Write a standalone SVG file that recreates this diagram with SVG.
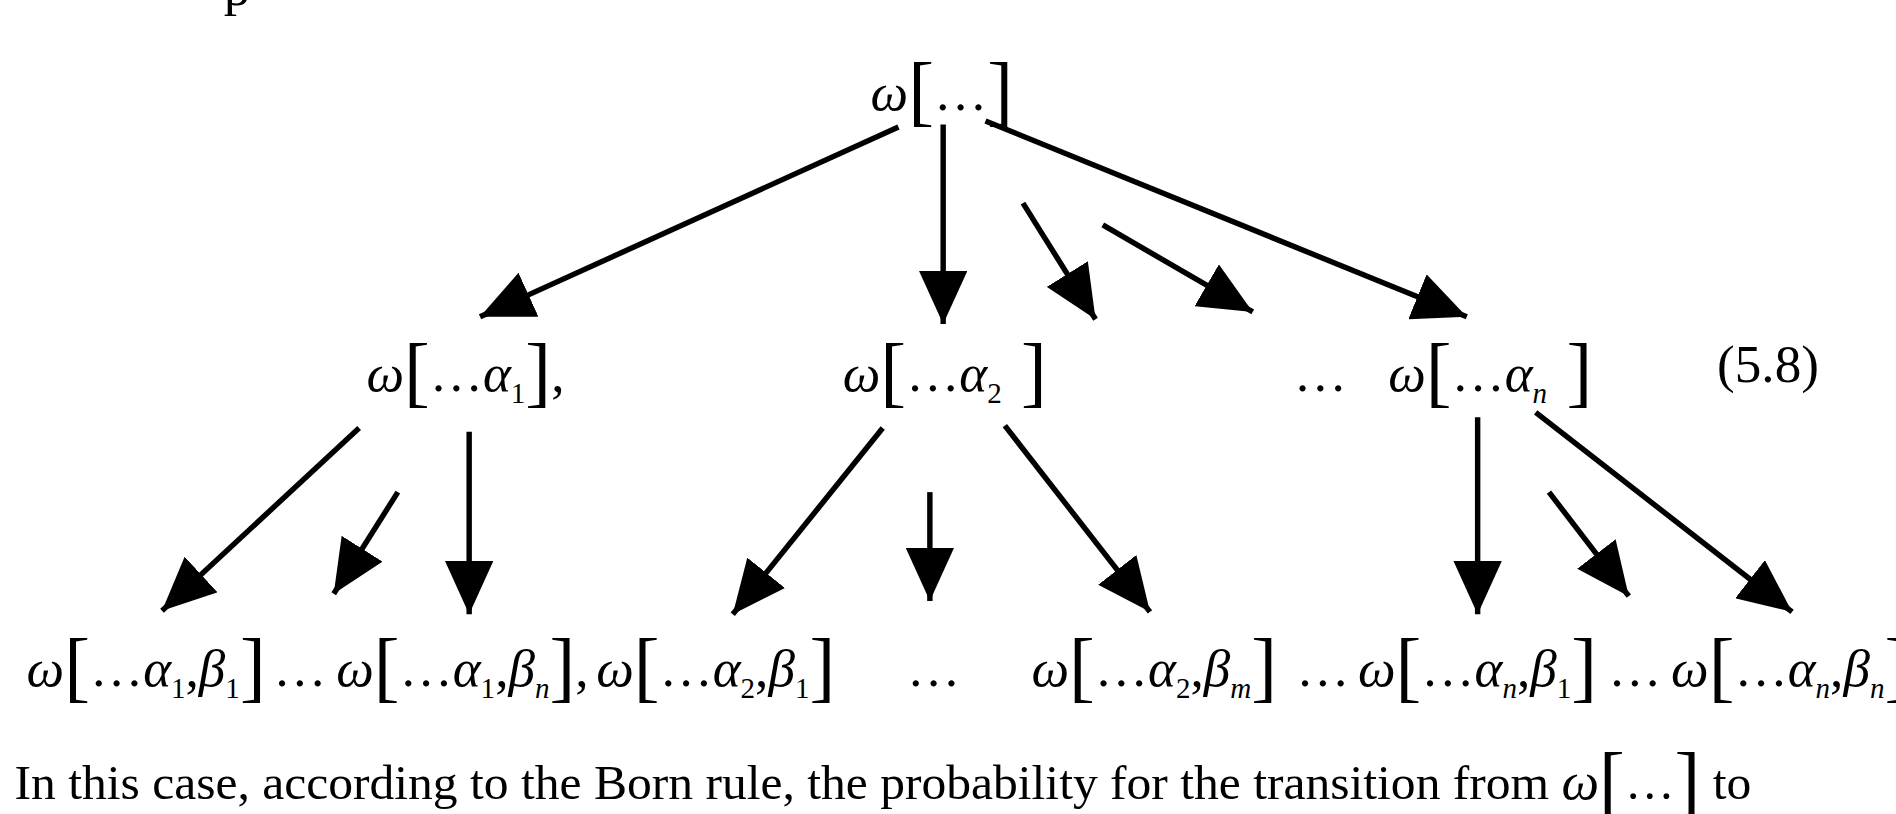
<svg xmlns="http://www.w3.org/2000/svg" width="1896" height="814" viewBox="0 0 1896 814">
<style>
text{font-family:"Liberation Serif",serif;fill:#000}
.m{font-size:44px;font-style:italic}
.b{font-size:64px;font-style:normal;font-weight:300}
.n{font-style:normal}
.s{font-size:24px}
.p{font-size:44px}
.q{font-size:41px}
line{stroke:#000;stroke-width:4.5}
</style>
<defs>
<marker id="ah" markerUnits="userSpaceOnUse" markerWidth="46" markerHeight="40" refX="44" refY="20" orient="auto">
<path d="M0,0 L44,20 L0,40 Z" fill="#000"/>
</marker>
</defs>
<rect width="1896" height="814" fill="#fff"/>
<g transform="scale(1.2092)">
<text class="p" x="185" y="4">p</text>
<g id="root"><text class="m" x="720" y="91">ω<tspan class="b n" y="97">[</tspan><tspan class="n" y="91">…</tspan><tspan class="b n" y="97">]</tspan></text></g>
<g id="a1"><text class="m" x="303" y="323">ω<tspan class="b n" y="329">[</tspan><tspan class="n" y="323">…</tspan>α<tspan class="s n" dy="10">1</tspan><tspan class="b n" y="329">]</tspan><tspan class="n" y="323">,</tspan></text></g>
<g id="a2"><text class="m" x="697" y="323">ω<tspan class="b n" y="329">[</tspan><tspan class="n" y="323">…</tspan>α<tspan class="s n" dy="10">2</tspan><tspan class="b n" y="329"> ]</tspan></text></g>
<g id="dots1"><text class="m n" x="1070" y="323">…</text></g>
<g id="an"><text class="m" x="1148" y="323">ω<tspan class="b n" y="329">[</tspan><tspan class="n" y="323">…</tspan>α<tspan class="s" dy="10">n</tspan><tspan class="b n" y="329"> ]</tspan></text></g>
<g id="eq"><text class="p" x="1420" y="316">(5.8)</text></g>
<g id="b1"><text class="m" x="22" y="567">ω<tspan class="b n" y="573">[</tspan><tspan class="n" y="567">…</tspan>α<tspan class="s n" dy="10">1</tspan><tspan class="n" y="567">,</tspan>β<tspan class="s n" dy="10">1</tspan><tspan class="b n" y="573">]</tspan></text></g>
<g id="d2"><text class="m n" x="226" y="567">…</text></g>
<g id="b2"><text class="m" x="278" y="567">ω<tspan class="b n" y="573">[</tspan><tspan class="n" y="567">…</tspan>α<tspan class="s n" dy="10">1</tspan><tspan class="n" y="567">,</tspan>β<tspan class="s" dy="10">n</tspan><tspan class="b n" y="573">]</tspan><tspan class="n" y="567">,</tspan></text></g>
<g id="b3"><text class="m" x="493" y="567">ω<tspan class="b n" y="573">[</tspan><tspan class="n" y="567">…</tspan>α<tspan class="s n" dy="10">2</tspan><tspan class="n" y="567">,</tspan>β<tspan class="s n" dy="10">1</tspan><tspan class="b n" y="573">]</tspan></text></g>
<g id="d3"><text class="m n" x="750" y="567">…</text></g>
<g id="b4"><text class="m" x="853" y="567">ω<tspan class="b n" y="573">[</tspan><tspan class="n" y="567">…</tspan>α<tspan class="s n" dy="10">2</tspan><tspan class="n" y="567">,</tspan>β<tspan class="s" dy="10">m</tspan><tspan class="b n" y="573">]</tspan></text></g>
<g id="d4"><text class="m n" x="1072" y="567">…</text></g>
<g id="b5"><text class="m" x="1123" y="567">ω<tspan class="b n" y="573">[</tspan><tspan class="n" y="567">…</tspan>α<tspan class="s" dy="10">n</tspan><tspan class="n" y="567">,</tspan>β<tspan class="s n" dy="10">1</tspan><tspan class="b n" y="573">]</tspan></text></g>
<g id="d5"><text class="m n" x="1330" y="567">…</text></g>
<g id="b6"><text class="m" x="1382" y="567">ω<tspan class="b n" y="573">[</tspan><tspan class="n" y="567">…</tspan>α<tspan class="s" dy="10">n</tspan><tspan class="n" y="567">,</tspan>β<tspan class="s" dy="10">n</tspan><tspan class="b n" y="573">]</tspan></text></g>
<g id="para"><text class="q" x="12" y="661">In this case, according to the Born rule, the probability for the transition  from <tspan class="m">ω</tspan><tspan class="b" y="667">[</tspan><tspan y="661">…</tspan><tspan class="b" y="667">]</tspan><tspan y="661"> to</tspan></text></g>
<g id="connectors">
<line x1="743" y1="105" x2="397" y2="262" marker-end="url(#ah)"/>
<line x1="780" y1="103" x2="780" y2="268" marker-end="url(#ah)"/>
<line x1="846" y1="168" x2="906" y2="264" marker-end="url(#ah)"/>
<line x1="912" y1="186" x2="1036" y2="258" marker-end="url(#ah)"/>
<line x1="815" y1="100" x2="1213" y2="262" marker-end="url(#ah)"/>
<line x1="297" y1="354" x2="134" y2="505" marker-end="url(#ah)"/>
<line x1="329" y1="407" x2="276" y2="491" marker-end="url(#ah)"/>
<line x1="388" y1="357" x2="388" y2="508" marker-end="url(#ah)"/>
<line x1="730" y1="354" x2="606" y2="508" marker-end="url(#ah)"/>
<line x1="769" y1="407" x2="769" y2="497" marker-end="url(#ah)"/>
<line x1="831" y1="352" x2="951" y2="506" marker-end="url(#ah)"/>
<line x1="1222" y1="345" x2="1222" y2="508" marker-end="url(#ah)"/>
<line x1="1281" y1="407" x2="1347" y2="493" marker-end="url(#ah)"/>
<line x1="1270" y1="341" x2="1482" y2="506" marker-end="url(#ah)"/>
</g>
</g>
</svg>
